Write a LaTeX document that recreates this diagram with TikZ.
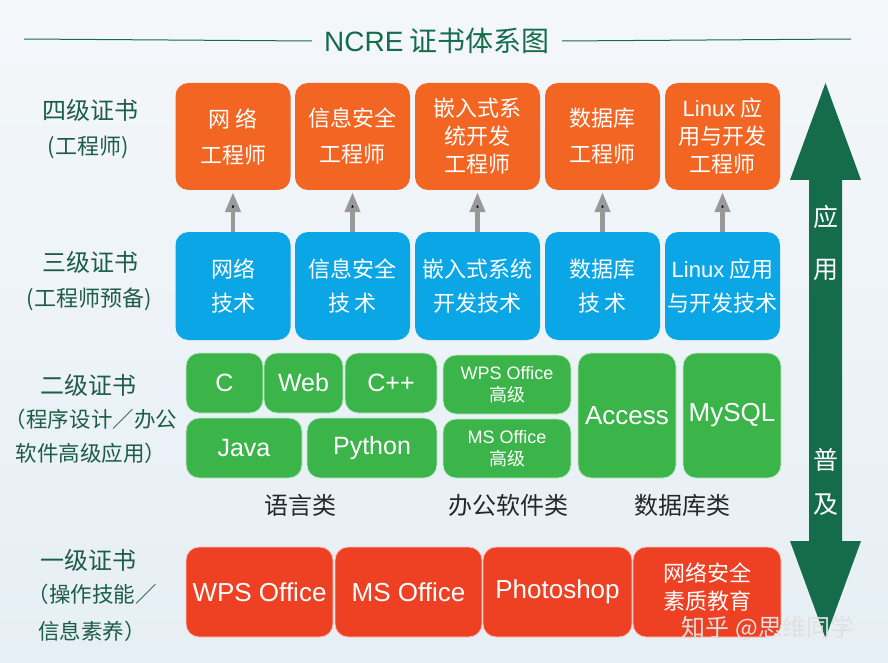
\documentclass[tikz,border=0pt]{standalone}
\usepackage{fontspec}
\setmainfont{Noto Sans CJK SC}
\newfontfamily\latinf{Liberation Sans}
\usetikzlibrary{arrows.meta}
\definecolor{bgtop}{HTML}{F4F7FA}
\definecolor{bgbot}{HTML}{E6EFF5}
\definecolor{deepgreen}{HTML}{146C4A}
\definecolor{labelgreen}{HTML}{1D5C47}
\definecolor{orangebox}{HTML}{F26522}
\definecolor{bluebox}{HTML}{0BA6E6}
\definecolor{greenbox}{HTML}{3BB54A}
\definecolor{redbox}{HTML}{EE4124}
\definecolor{arrowgray}{HTML}{999999}
\begin{document}
\begin{tikzpicture}[x=1pt, y=-1pt]
	\tikzset{box/.style={rounded corners=13pt, text=white, align=center, inner sep=0pt}}
	\tikzset{orange/.style={box, fill=orangebox, minimum width=115pt, minimum height=107pt, font=\fontsize{22}{36}\selectfont}}
	\tikzset{blue/.style={box, fill=bluebox, minimum width=115pt, minimum height=108pt, font=\fontsize{22}{34}\selectfont}}
	\tikzset{green/.style={box, fill=greenbox, draw=white!70!greenbox, line width=0.8pt, font=\latinf\fontsize{25}{30}\selectfont}}
	\tikzset{red/.style={box, fill=redbox, draw=white!70!redbox, line width=0.8pt, minimum height=90pt, font=\latinf\fontsize{26}{30}\selectfont}}
	\tikzset{level/.style={text=labelgreen, align=center, inner sep=1pt, font=\fontsize{24}{28}\selectfont}}
	\tikzset{levelsub/.style={level, font=\fontsize{22}{35}\selectfont}}
	\tikzset{group/.style={text=black!85, font=\fontsize{24}{28}\selectfont}}
	\tikzset{ar/.style={-{Triangle[width=15pt,length=20pt]}, draw=arrowgray, line width=4.5pt, shorten >=2pt}}
	\useasboundingbox (0,0) rectangle (888,663);
	\shade[top color=bgtop, bottom color=bgbot] (0,0) rectangle (888,663);
	% title
	\node[text=deepgreen, inner sep=12pt, font=\fontsize{28}{30}\selectfont] at (437, 41) (title) {{\latinf NCRE} 证书体系图};
	\coordinate (tl) at (24, 39);
	\coordinate (tr) at (851, 39);
	\draw[deepgreen, line width=1pt] (tl) -- (title.west);
	\draw[deepgreen, line width=1pt] (title.east) -- (tr);
	% levels
	\node[level] at (90, 110) (lv4) {四级证书};
	\node[levelsub] at (88, 147) (lv4s) {(工程师)};
	\node[level] at (90, 262) (lv3) {三级证书};
	\node[levelsub] at (89, 299) (lv3s) {(工程师预备)};
	\node[level] at (88, 385) (lv2) {二级证书};
	\node[levelsub, font=\fontsize{21.5}{34}\selectfont] at (91, 436) (lv2s) {（程序设计／办公\\软件高级应用）};
	\node[level] at (88, 560) (lv1) {一级证书};
	\node[levelsub, font=\fontsize{21.5}{37}\selectfont] at (92, 613) (lv1s) {（操作技能／\\信息素养）};
	% level four
	\node[orange] at (233, 136.5) (o1) {网 络\\工程师};
	\node[orange] at (352.5, 136.5) (o2) {信息安全\\工程师};
	\node[orange, minimum width=125pt, font=\fontsize{22}{28}\selectfont] at (477.5, 136.5) (o3) {嵌入式系\\统开发\\工程师};
	\node[orange] at (602.5, 136.5) (o4) {数据库\\工程师};
	\node[orange, font=\fontsize{22}{28}\selectfont] at (722.5, 136.5) (o5) {{\latinf Linux} 应\\用与开发\\工程师};
	% level three
	\node[blue] at (233, 286) (b1) {网络\\技术};
	\node[blue] at (352.5, 286) (b2) {信息安全\\技 术};
	\node[blue, minimum width=125pt] at (477.5, 286) (b3) {嵌入式系统\\开发技术};
	\node[blue] at (602.5, 286) (b4) {数据库\\技 术};
	\node[blue] at (722.5, 286) (b5) {{\latinf Linux} 应用\\与开发技术};
	\path[ar] (b1) edge (o1);
	\path[ar] (b2) edge (o2);
	\path[ar] (b3) edge (o3);
	\path[ar] (b4) edge (o4);
	\path[ar] (b5) edge (o5);
	% level two
	\node[green, minimum width=77pt, minimum height=60pt] at (224.5, 383) (c) {C};
	\node[green, minimum width=79pt, minimum height=60pt] at (303.5, 383) (web) {Web};
	\node[green, minimum width=92pt, minimum height=60pt] at (391, 383) (cpp) {C++};
	\node[green, minimum width=116pt, minimum height=60pt] at (244, 448) (java) {Java};
	\node[green, minimum width=130pt, minimum height=60pt] at (372, 448) (py) {Python};
	\node[green, minimum width=128pt, minimum height=59pt, font=\fontsize{18}{22}\selectfont] at (507, 384.5) (wpsh) {{\latinf WPS Office}\\高级};
	\node[green, minimum width=128pt, minimum height=59pt, font=\fontsize{18}{22}\selectfont] at (507, 448.5) (msh) {{\latinf MS Office}\\高级};
	\node[green, minimum width=98pt, minimum height=125pt, font=\latinf\fontsize{26}{30}\selectfont] at (627, 415.5) (acc) {Access};
	\node[green, minimum width=98pt, minimum height=125pt, font=\latinf\fontsize{26}{30}\selectfont] at (732, 415.5) (sql) {MySQL};
	\node[group] at (300, 505) (lang) {语言类};
	\node[group] at (508, 505) (office) {办公软件类};
	\node[group] at (682, 505) (db) {数据库类};
	% level one
	\node[red, minimum width=147pt] at (259.5, 592) (wps) {WPS Office};
	\node[red, minimum width=147pt] at (408.5, 592) (ms) {MS Office};
	\node[red, minimum width=149pt] at (557.5, 592) (ps) {Photoshop};
	\node[red, minimum width=148pt, text depth=11pt, font=\fontsize{22}{28}\selectfont] at (707, 592) (sec) {网络安全\\素质教育};
	% big arrow
	\fill[deepgreen] (825.5, 83) -- (861, 180) -- (842, 180) -- (842, 541) -- (861, 541)
		-- (825.5, 638) -- (790, 541) -- (809, 541) -- (809, 180) -- (790, 180) -- cycle;
	\node[text=white, font=\fontsize{25}{30}\selectfont] at (825.5, 217) (ying) {应};
	\node[text=white, font=\fontsize{25}{30}\selectfont] at (825.5, 270) (yong) {用};
	\node[text=white, font=\fontsize{25}{30}\selectfont] at (825.5, 460) (pu) {普};
	\node[text=white, font=\fontsize{25}{30}\selectfont] at (825.5, 505) (ji) {及};
	% watermark
	\node[text=white!88!black, inner sep=0pt, font=\fontsize{24}{28}\selectfont] at (768, 628) (mark) {知乎 @思维同学};
\end{tikzpicture}
\end{document}
